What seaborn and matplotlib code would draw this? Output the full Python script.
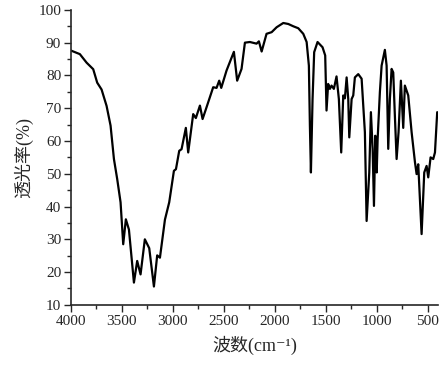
import numpy as np
import pandas as pd
import matplotlib
matplotlib.use('Agg')
import matplotlib.pyplot as plt
from matplotlib.ticker import MultipleLocator
import seaborn as sns

# IR spectrum
wavenumber = [4000, 3912, 3846, 3781, 3742, 3699, 3650, 3611, 3578, 3546, 3513,
              3487, 3461, 3431, 3382, 3350, 3317, 3275, 3232, 3186, 3154, 3127,
              3078, 3036, 2990, 2970, 2938, 2915, 2873, 2850, 2801, 2775, 2735,
              2709, 2670, 2605, 2572, 2546, 2526, 2474, 2435, 2402, 2370, 2327,
              2294, 2245, 2180, 2157, 2130, 2082, 2032, 1983, 1918, 1869, 1820,
              1771, 1722, 1689, 1667, 1657, 1647, 1631, 1615, 1582, 1533, 1507,
              1494, 1478, 1461, 1445, 1422, 1396, 1373, 1350, 1330, 1314, 1297,
              1281, 1271, 1248, 1232, 1216, 1183, 1150, 1118, 1101, 1075, 1059,
              1042, 1029, 1016, 1002, 993, 971, 954, 922, 905, 889, 873, 856,
              840, 824, 807, 788, 765, 742, 726, 693, 660, 627, 611, 595, 562,
              536, 513, 497, 474, 448, 431, 409]
transmittance = [87.6, 86.5, 83.9, 81.9, 77.8, 75.7, 70.7, 64.7, 54.5, 48.4, 41.3,
                 28.5, 36.1, 33.0, 16.8, 23.4, 19.3, 30.0, 27.3, 15.6, 25.1, 24.4,
                 36.0, 41.3, 50.9, 51.4, 57.0, 57.5, 64.0, 56.5, 68.2, 67.0, 70.8,
                 66.7, 70.3, 76.4, 76.2, 78.4, 76.2, 81.5, 84.6, 87.2, 78.4, 82.0,
                 90.0, 90.2, 89.7, 90.4, 87.3, 92.7, 93.2, 94.7, 96.0, 95.7, 95.0,
                 94.4, 92.7, 90.2, 83.0, 64.7, 50.4, 72.7, 87.1, 90.2, 88.6, 86.1,
                 69.3, 77.4, 75.9, 76.9, 75.9, 79.7, 72.8, 56.5, 73.9, 73.0, 79.4,
                 72.8, 61.1, 72.8, 73.9, 79.4, 80.4, 79.0, 62.7, 35.6, 50.4, 68.8,
                 57.6, 40.2, 61.6, 50.4, 60.6, 74.9, 83.0, 87.8, 83.0, 57.6, 72.8,
                 82.0, 80.9, 67.7, 54.5, 62.7, 78.4, 64.0, 76.9, 73.9, 62.7, 53.5,
                 49.9, 52.9, 31.6, 50.4, 52.4, 48.9, 55.0, 54.5, 56.5, 68.8]

df = pd.DataFrame({'wn': wavenumber, 'T': transmittance})

sns.set_style('ticks')
plt.rcParams['font.family'] = ['Liberation Serif', 'Noto Sans CJK SC', 'DejaVu Serif']

fig = plt.figure(figsize=(4.43, 3.66), dpi=100)
ax = fig.add_axes([0.160, 0.167, 0.829, 0.806])

sns.lineplot(data=df, x='wn', y='T', sort=False, color='black', linewidth=1.6, ax=ax)

ax.set_xlim(4000, 400)
ax.set_ylim(10, 100)
ax.xaxis.set_major_locator(MultipleLocator(500))
ax.xaxis.set_minor_locator(MultipleLocator(250))
ax.yaxis.set_major_locator(MultipleLocator(10))
ax.yaxis.set_minor_locator(MultipleLocator(5))
ax.tick_params(which='major', length=5, width=1, labelsize=11, direction='out', pad=2)
ax.tick_params(which='minor', length=3, width=1, direction='out')
for s in ['top', 'right']:
    ax.spines[s].set_visible(False)
for s in ['left', 'bottom']:
    ax.spines[s].set_linewidth(1.2)

ax.set_xlabel('波数(cm⁻¹)', fontsize=13, labelpad=6)
ax.set_ylabel('透光率(%)', fontsize=13, labelpad=4)

fig.savefig('out.png', dpi=100)
